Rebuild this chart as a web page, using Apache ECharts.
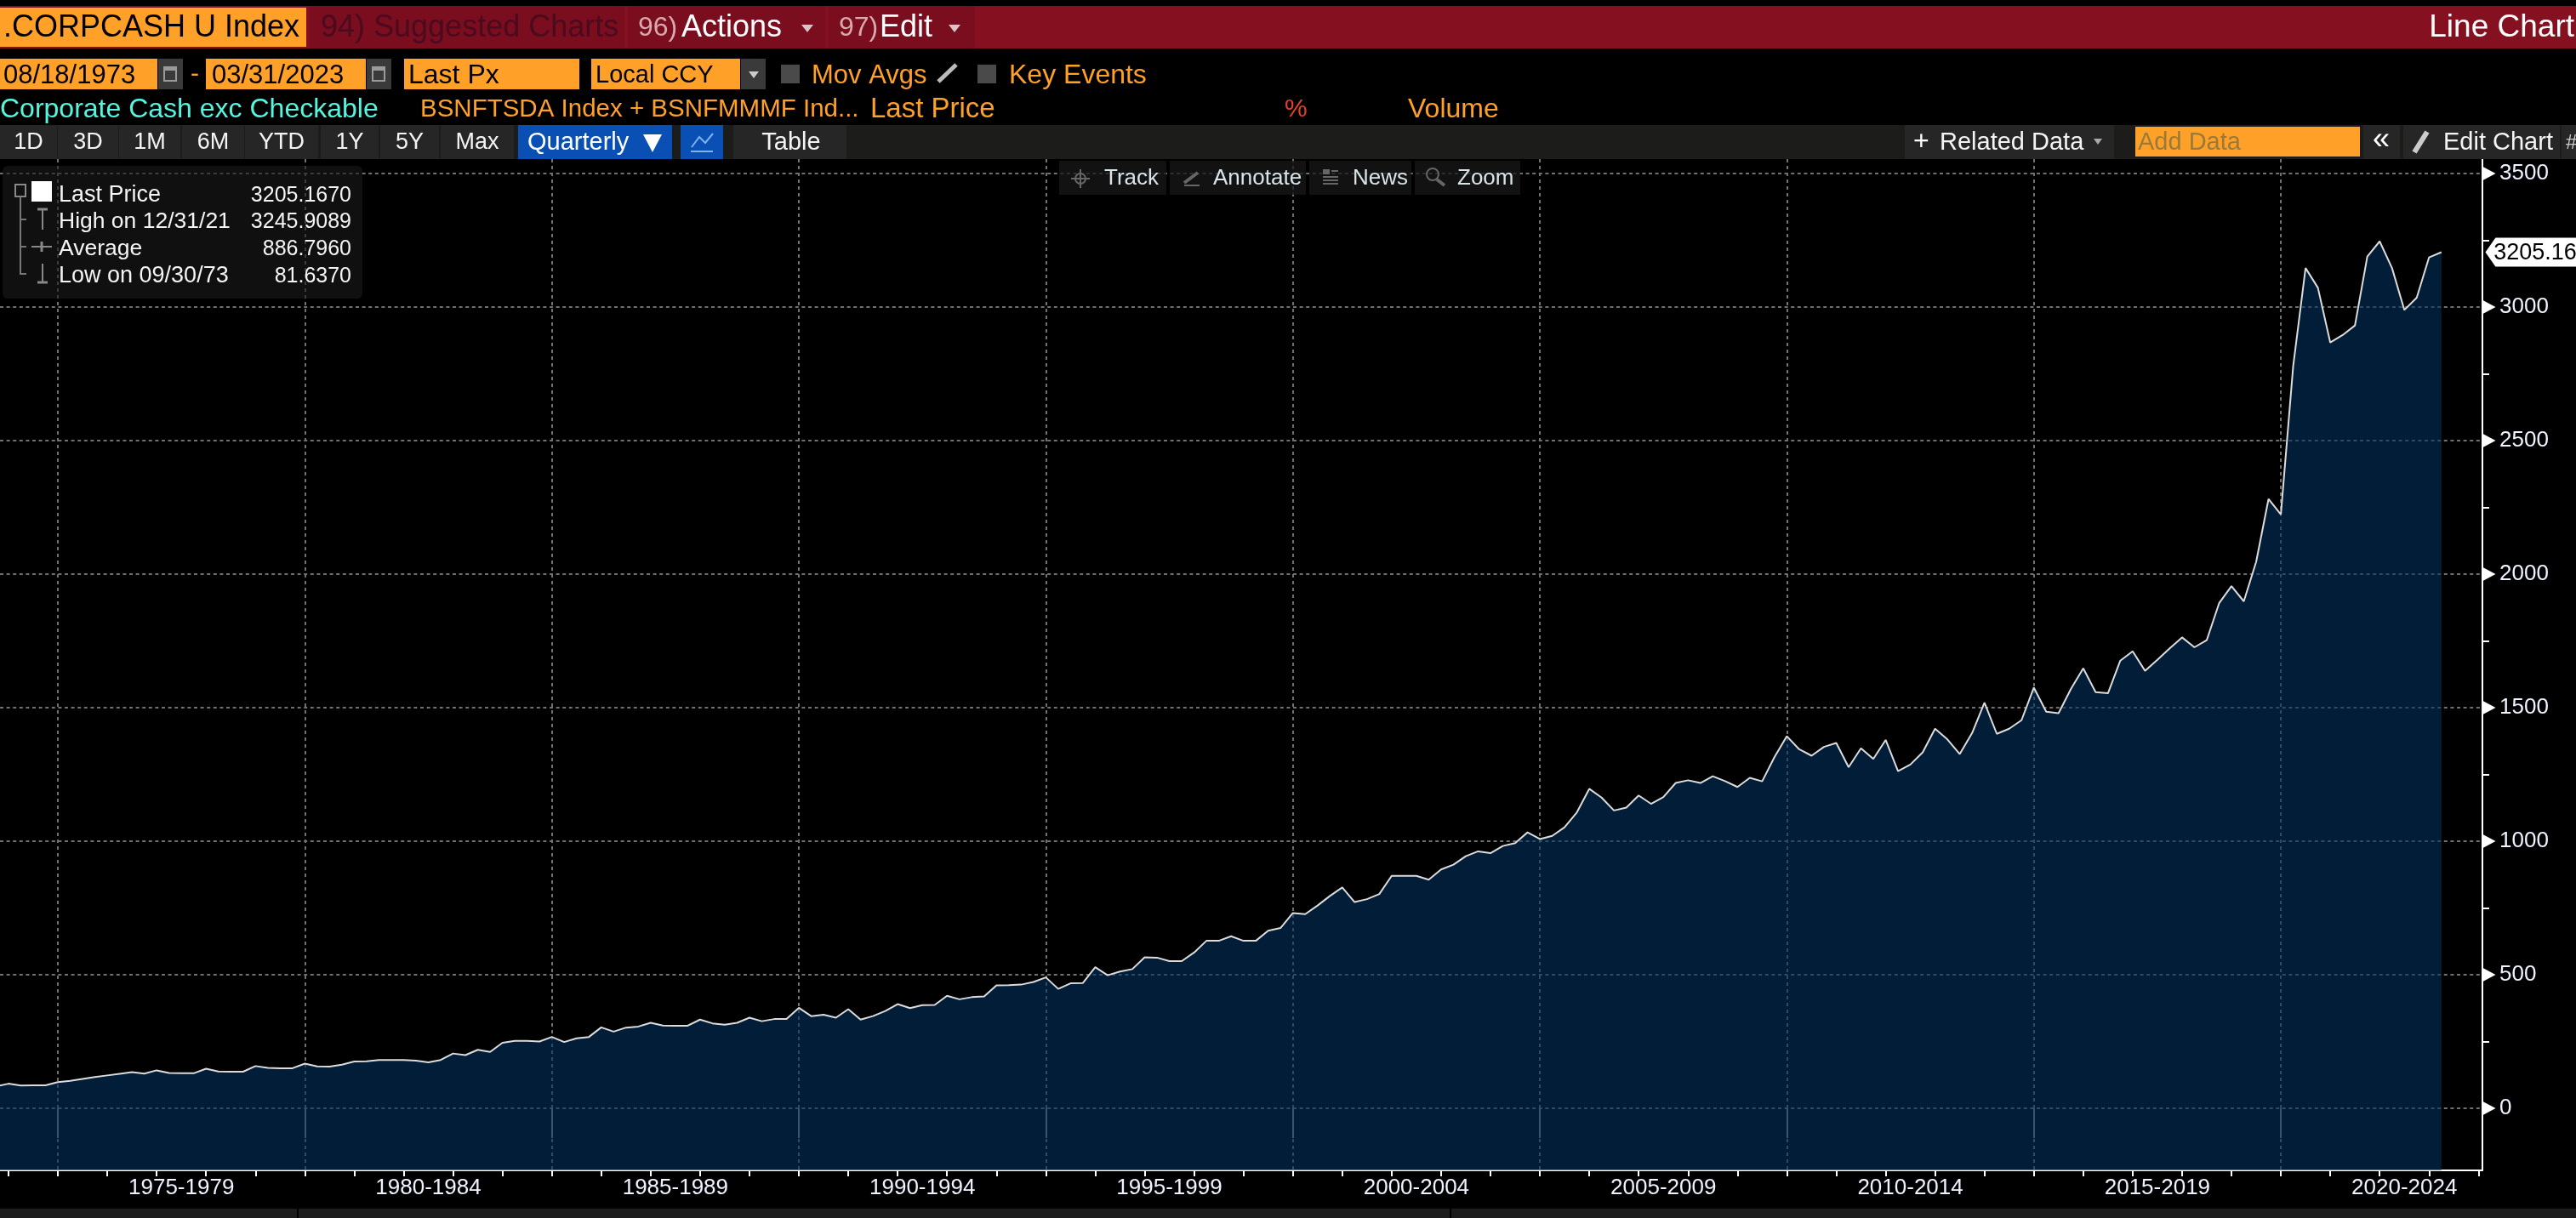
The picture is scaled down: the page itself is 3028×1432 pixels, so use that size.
<!DOCTYPE html>
<html>
<head>
<meta charset="utf-8">
<title>.CORPCASH U Index</title>
<script src="https://cdn.jsdelivr.net/npm/echarts@6/dist/echarts.min.js"></script>
<style>
  html, body { margin: 0; padding: 0; background: #000; }
  #chart { width: 100vw; height: 100vh; }
</style>
</head>
<body>
<div id="chart"></div>
<script>
// quarter-end values, Q3 1973 to Q1 2023
const cashValues = [
  81.6, 92, 85, 86, 86, 98, 103, 110, 117, 123, 129, 135, 130, 142, 132, 131, 131, 148, 138, 137,
  137, 158, 151, 150, 150, 167, 157, 156, 163, 175, 176, 181, 181, 181, 178, 172, 181, 205, 199, 219,
  211, 245, 252, 252, 250, 267, 248, 262, 267, 303, 287, 302, 306, 320, 310, 309, 309, 332, 318, 313,
  320, 339, 326, 334, 334, 376, 345, 350, 339, 371, 332, 345, 364, 390, 375, 386, 387, 421, 408, 416,
  419, 460, 461, 463, 473, 490, 447, 468, 469, 528, 498, 512, 521, 565, 564, 551, 551, 583, 627, 627,
  644, 627, 627, 665, 675, 731, 727, 759, 795, 827, 772, 783, 802, 870, 870, 870, 856, 894, 912, 944,
  962, 955, 982, 993, 1033, 1008, 1020, 1052, 1108, 1196, 1163, 1115, 1126, 1171, 1140, 1165, 1218, 1228, 1218, 1243,
  1225, 1203, 1237, 1224, 1315, 1393, 1344, 1320, 1353, 1368, 1277, 1348, 1308, 1379, 1262, 1287, 1333, 1421, 1381, 1326,
  1405, 1519, 1402, 1421, 1453, 1575, 1485, 1479, 1570, 1647, 1558, 1554, 1676, 1711, 1638, 1679, 1722, 1763, 1726, 1753,
  1891, 1955, 1898, 2046, 2281, 2223, 2780, 3146, 3072, 2867, 2895, 2931, 3189, 3245.9, 3146, 2989, 3035, 3186, 3205.167
];
const firstQuarter = 1973.75;
const periodLabels = ['1975-1979', '1980-1984', '1985-1989', '1990-1994', '1995-1999', '2000-2004', '2005-2009', '2010-2014', '2015-2019', '2020-2024'];
const periodEdges = [1975, 1980, 1985, 1990, 1995, 2000, 2005, 2010, 2015, 2020];
const periodCenters = [1977.5, 1982.5, 1987.5, 1992.5, 1997.5, 2002.5, 2007.5, 2012.5, 2017.5, 2022.5];
const yearTicks = [1974, 1975, 1976, 1977, 1978, 1979, 1980, 1981, 1982, 1983, 1984, 1985, 1986, 1987, 1988, 1989, 1990, 1991, 1992, 1993, 1994, 1995, 1996, 1997, 1998, 1999, 2000, 2001, 2002, 2003, 2004, 2005, 2006, 2007, 2008, 2009, 2010, 2011, 2012, 2013, 2014, 2015, 2016, 2017, 2018, 2019, 2020, 2021, 2022, 2023, 2024];
const valueTicks = [0, 500, 1000, 1500, 2000, 2500, 3000, 3500];
const minorValueTicks = [250, 750, 1250, 1750, 2250, 2750, 3250];
const lastPrice = 3205.167;

const xMin = 1973.829, xMax = 2024.08;
const yMin = -232.5, yMax = 3554;
const FONT = '"Liberation Sans", Arial, sans-serif';
const ORANGE = '#ffa028';
const BTN = '#262626';

// chrome helpers (terminal toolbar, not data)
function box(x, y, w, h, fill, r) {
  return { type: 'rect', z: 100, silent: true, shape: { x, y, width: w, height: h, r: r || 0 }, style: { fill } };
}
function txt(x, y, text, fill, size, align) {
  return { type: 'text', z: 101, silent: true, x, y, style: { text, fill, font: size + 'px ' + FONT, textAlign: align || 'left', textVerticalAlign: 'middle' } };
}
function seg(points, stroke, w) {
  return { type: 'polyline', z: 101, silent: true, shape: { points }, style: { stroke, lineWidth: w || 2, fill: null } };
}
function tri(points, fill) {
  return { type: 'polygon', z: 101, silent: true, shape: { points }, style: { fill } };
}
function calendar(x) {
  return [box(x, 69, 29, 36, '#3a3a3a'), box(x + 6, 78, 16, 18, '#9a9a9a'), box(x + 8, 83, 12, 11, '#3a3a3a')];
}

const chrome = [
  // top red bar
  box(0, 7, 3028, 50, '#85101f'),
  box(0, 9, 360, 46, ORANGE),
  txt(4, 33, '.CORPCASH U Index', '#000', 36),
  box(364, 7, 370, 50, '#7a0e1e'),
  txt(377, 33, '94) Suggested Charts', '#4c0a1e', 36),
  box(738, 7, 232, 50, '#7a0e1e'),
  txt(750, 33, '96)', '#d9a9ae', 32),
  txt(801, 33, 'Actions', '#fff', 36),
  tri([[942, 29], [956, 29], [949, 38]], '#d9c5c8'),
  box(974, 7, 172, 50, '#7a0e1e'),
  txt(986, 33, '97)', '#d9a9ae', 32),
  txt(1034, 33, 'Edit', '#fff', 36),
  tri([[1115, 29], [1129, 29], [1122, 38]], '#d9c5c8'),
  txt(3026, 33, 'Line Chart', '#fff', 37, 'right'),

  // date / field row
  box(0, 69, 185, 36, ORANGE),
  txt(4, 89, '08/18/1973', '#000', 31),
  ...calendar(186),
  txt(224, 88, '-', ORANGE, 30),
  box(242, 69, 188, 36, ORANGE),
  txt(249, 89, '03/31/2023', '#000', 31),
  ...calendar(431),
  box(475, 69, 206, 36, ORANGE),
  txt(480, 89, 'Last Px', '#000', 32),
  box(695, 69, 175, 36, ORANGE),
  txt(700, 89, 'Local CCY', '#000', 29),
  box(871, 69, 29, 36, '#3a3a3a'),
  tri([[880, 84], [892, 84], [886, 92]], '#ccc'),
  box(918, 76, 22, 22, '#4a4a4a'),
  txt(954, 89, 'Mov Avgs', ORANGE, 31),
  seg([[1103, 96], [1124, 76]], '#bbb', 5),
  box(1149, 76, 22, 22, '#4a4a4a'),
  txt(1186, 89, 'Key Events', ORANGE, 32),

  // series description row
  txt(0, 129, 'Corporate Cash exc Checkable', '#55f5e0', 32),
  txt(494, 129, 'BSNFTSDA Index + BSNFMMMF Ind...', ORANGE, 29.5),
  txt(1023, 129, 'Last Price', ORANGE, 33),
  txt(1510, 129, '%', '#e8402a', 30),
  txt(1655, 129, 'Volume', ORANGE, 32),

  // period toolbar
  box(0, 147, 3028, 40, '#1c1c1a'),
  ...[[0, 67, '1D'], [68, 71, '3D'], [140, 72, '1M'], [214, 73, '6M'], [288, 86, 'YTD'], [377, 68, '1Y'], [447, 69, '5Y'], [518, 86, 'Max']].flatMap(b => [
    box(b[0], 147, b[1], 40, BTN),
    txt(b[0] + b[1] / 2, 168, b[2], '#f4f4f4', 27, 'center')
  ]),
  box(609, 147, 181, 40, '#0a50b4'),
  txt(620, 168, 'Quarterly', '#fff', 29),
  tri([[756, 158], [778, 158], [767, 179]], '#fff'),
  box(800, 147, 50, 40, '#0a50b4'),
  seg([[813, 173], [822, 161], [829, 168], [838, 157]], '#7fb2ee', 2),
  seg([[812, 178], [838, 178]], '#7fb2ee', 2),
  box(862, 147, 133, 40, BTN),
  txt(930, 168, 'Table', '#f4f4f4', 29, 'center'),
  box(2239, 147, 246, 40, BTN),
  txt(2249, 167, '+', '#fff', 32),
  txt(2280, 168, 'Related Data', '#f4f4f4', 29),
  tri([[2461, 163], [2471, 163], [2466, 170]], '#aaa'),
  box(2510, 149, 264, 35, ORANGE),
  txt(2513, 168, 'Add Data', '#9a7a3a', 29),
  box(2778, 147, 43, 40, BTN),
  txt(2799, 165, '«', '#fff', 36, 'center'),
  box(2825, 147, 184, 40, BTN),
  seg([[2838, 179], [2853, 155]], '#ccc', 6),
  txt(2872, 168, 'Edit Chart', '#f4f4f4', 29),
  box(3011, 147, 17, 40, BTN),
  txt(3016, 168, '#', '#ccc', 24),

  // chart tools
  box(1245, 189, 126, 40, 'rgba(24,24,24,0.75)'),
  box(1375, 189, 160, 40, 'rgba(24,24,24,0.75)'),
  box(1539, 189, 120, 40, 'rgba(24,24,24,0.75)'),
  box(1663, 189, 124, 40, 'rgba(24,24,24,0.75)'),
  seg([[1259, 210], [1281, 210]], '#666', 2), seg([[1270, 199], [1270, 221]], '#666', 2),
  { type: 'circle', z: 101, silent: true, shape: { cx: 1270, cy: 210, r: 6 }, style: { stroke: '#666', lineWidth: 2, fill: null } },
  txt(1298, 210, 'Track', '#d8e4e8', 26),
  seg([[1392, 215], [1408, 203]], '#666', 4), seg([[1392, 218], [1410, 218]], '#666', 2),
  txt(1426, 210, 'Annotate', '#d8e4e8', 26),
  box(1555, 199, 8, 6, '#666'),
  seg([[1565, 201], [1573, 201]], '#666', 2), seg([[1555, 208], [1573, 208]], '#666', 2),
  seg([[1555, 212], [1573, 212]], '#666', 2), seg([[1555, 216], [1573, 216]], '#666', 2),
  txt(1590, 210, 'News', '#d8e4e8', 26),
  seg([[1689, 211], [1698, 218]], '#666', 4),
  { type: 'circle', z: 101, silent: true, shape: { cx: 1684, cy: 205, r: 7 }, style: { stroke: '#666', lineWidth: 2, fill: null } },
  txt(1713, 210, 'Zoom', '#d8e4e8', 26),

  // legend
  box(3, 195, 423, 156, 'rgba(26,26,26,0.6)', 6),
  { type: 'rect', z: 101, silent: true, shape: { x: 18, y: 217, width: 12, height: 14 }, style: { stroke: '#888', lineWidth: 2, fill: null } },
  seg([[24, 231], [24, 322], [31, 322]], '#777', 2),
  seg([[24, 258], [31, 258]], '#777', 2),
  seg([[24, 290], [31, 290]], '#777', 2),
  box(37, 213, 24, 24, '#fff'),
  txt(69, 230, 'Last Price', '#f4f4f4', 27),
  txt(413, 230, '3205.1670', '#f4f4f4', 25, 'right'),
  seg([[44, 246], [56, 246]], '#888', 3), seg([[50, 246], [50, 270]], '#888', 2),
  txt(69, 261, 'High on 12/31/21', '#f4f4f4', 26.5),
  txt(413, 261, '3245.9089', '#f4f4f4', 25, 'right'),
  seg([[37, 290], [61, 290]], '#888', 2), seg([[49, 284], [49, 296]], '#888', 3),
  txt(69, 293, 'Average', '#f4f4f4', 26.5),
  txt(413, 293, '886.7960', '#f4f4f4', 25, 'right'),
  seg([[50, 310], [50, 332]], '#888', 2), seg([[44, 332], [56, 332]], '#888', 3),
  txt(69, 325, 'Low on 09/30/73', '#f4f4f4', 27),
  txt(413, 325, '81.6370', '#f4f4f4', 25, 'right'),

  // bottom strip
  box(0, 1421, 349, 11, '#1c1c1c'),
  box(351, 1421, 1353, 11, '#1c1c1c'),
  box(1706, 1421, 1322, 11, '#1c1c1c')
];

const chart = echarts.init(document.getElementById('chart'));
chart.setOption({
  backgroundColor: '#000',
  animation: false,
  graphic: chrome,
  grid: { left: 0, right: 110, top: 187, bottom: 56, containLabel: false },
  xAxis: [
    {
      type: 'value', min: xMin, max: xMax, position: 'bottom',
      axisLine: { onZero: false, lineStyle: { color: '#fff', width: 2 } },
      axisTick: { customValues: yearTicks, length: 7, lineStyle: { color: '#fff', width: 2 } },
      axisLabel: {
        customValues: periodCenters, margin: 8, color: '#eef3ff', fontFamily: FONT, fontSize: 26,
        formatter: v => periodLabels[periodCenters.indexOf(v)]
      },
      splitLine: { show: false }
    },
    {
      type: 'value', min: xMin, max: xMax, position: 'bottom',
      axisLine: { show: false },
      axisTick: { customValues: periodEdges, length: 35, lineStyle: { color: '#8a8a8a', width: 2 } },
      axisLabel: { show: false },
      splitLine: { show: true, lineStyle: { color: '#707070', width: 2, type: [4, 4] } }
    }
  ],
  yAxis: [
    {
      type: 'value', min: yMin, max: yMax, position: 'right',
      axisLine: { show: true, onZero: false, lineStyle: { color: '#fff', width: 2 } },
      axisTick: { customValues: valueTicks, show: false },
      axisLabel: {
        customValues: valueTicks, margin: 20, color: '#eef3ff', fontFamily: FONT, fontSize: 26,
        padding: [8, 0, 0, 0], formatter: v => String(v)
      },
      splitLine: { show: true, lineStyle: { color: '#707070', width: 2, type: [4, 3.6] } }
    },
    {
      type: 'value', min: yMin, max: yMax, position: 'right',
      axisLine: { show: false },
      axisTick: { customValues: minorValueTicks, length: 8, lineStyle: { color: '#fff', width: 2 } },
      axisLabel: { show: false },
      splitLine: { show: false }
    }
  ],
  series: [
    {
      name: 'Last Price', type: 'line', showSymbol: false, symbol: 'none',
      data: cashValues.map((v, i) => [firstQuarter + i / 4, v]),
      lineStyle: { color: '#dcdcdc', width: 2 },
      areaStyle: { color: 'rgba(4,48,94,0.6)', opacity: 1, origin: 'start' }
    },
    {
      // axis pointers at the labelled ticks
      type: 'scatter', clip: false, silent: true, z: 5,
      symbol: 'path://M0 0 L15 8 L0 16 Z', symbolSize: [15, 16], symbolOffset: [8, 0],
      itemStyle: { color: '#fff', opacity: 1 },
      data: valueTicks.map(v => [xMax, v])
    },
    {
      // last price tag
      type: 'scatter', clip: false, silent: true, z: 6,
      symbol: 'path://M0 17 L12 0 L120 0 L120 34 L12 34 Z', symbolSize: [119, 34], symbolOffset: [63, 0],
      itemStyle: { color: '#fff', opacity: 1 },
      label: {
        show: true, position: 'inside', offset: [-1, 1], color: '#000', fontFamily: FONT, fontSize: 27,
        formatter: () => String(lastPrice).slice(0, 7)
      },
      data: [[xMax, lastPrice]]
    }
  ]
});
window.addEventListener('resize', () => chart.resize());
</script>
</body>
</html>
